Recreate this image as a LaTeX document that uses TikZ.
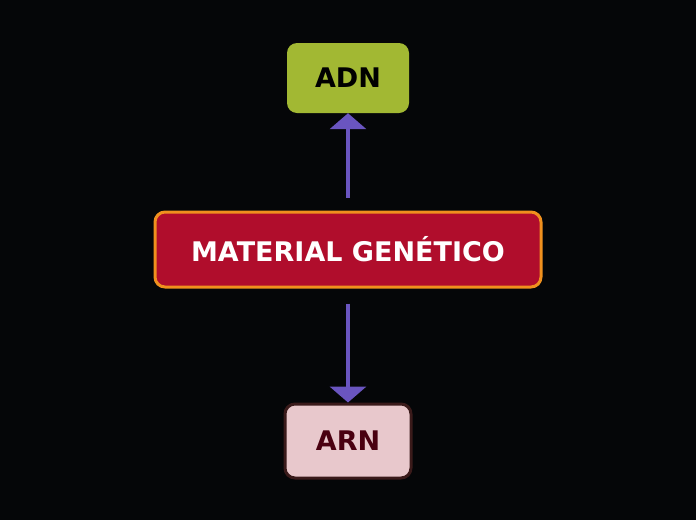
\documentclass[tikz,border=0pt]{standalone}
\usepackage{fontspec}
\setmainfont{DejaVu Sans}
\usetikzlibrary{arrows.meta}
\definecolor{bg}{HTML}{050608}
\definecolor{adn}{HTML}{A2B833}
\definecolor{mat}{HTML}{B00D2C}
\definecolor{matb}{HTML}{F0901E}
\definecolor{arn}{HTML}{E8C8CC}
\definecolor{arnb}{HTML}{3A1A1A}
\definecolor{arnt}{HTML}{4A0010}
\definecolor{arr}{HTML}{6A55C0}
\tikzset{
  box/.style={rounded corners=10pt, inner sep=0pt, font=\bfseries\fontsize{27}{32}\selectfont},
  conn/.style={draw=arr, line width=4pt, -{Triangle[width=36pt,length=16pt]}}
}
\begin{document}
\begin{tikzpicture}[x=1pt,y=-1pt]
\fill[bg] (0,0) rectangle (696,520);
\useasboundingbox (0,0) rectangle (696,520);
\node[box, fill=adn, minimum width=122pt, minimum height=70pt] (adn) at (348,78) {ADN};
\node[box, fill=mat, draw=matb, line width=3pt, text=white, minimum width=386pt, minimum height=75pt] (mat) at (348,249.5) {MATERIAL GENÉTICO};
\node[box, fill=arn, draw=arnb, line width=3pt, text=arnt, minimum width=126pt, minimum height=74pt] (arn) at (348,441) {ARN};
\draw[conn] ([yshift=13pt]mat.north) -- (adn.south);
\draw[conn] ([yshift=-15pt]mat.south) -- (arn.north);
\end{tikzpicture}
\end{document}
